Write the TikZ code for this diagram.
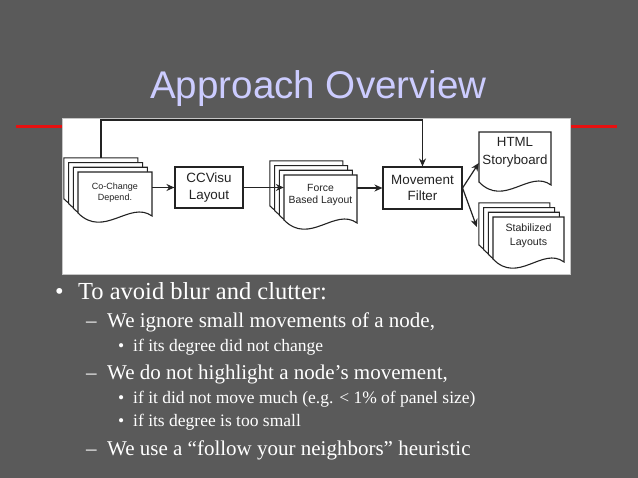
\documentclass[tikz,border=0pt]{standalone}
\usepackage{fontspec}
\setmainfont{Liberation Serif}
\setsansfont{Liberation Sans}
\usetikzlibrary{arrows.meta,positioning}

\definecolor{slidegray}{RGB}{90,90,90}
\definecolor{titleblue}{RGB}{204,204,255}
\definecolor{rulered}{RGB}{232,16,16}
\definecolor{inkgray}{RGB}{35,35,35}

\tikzset{
  docline/.style={draw=inkgray, fill=white, line width=1.1pt},
  box/.style={draw=inkgray, fill=white, line width=1.1pt, inner sep=0pt, align=center, text=inkgray},
  doctext/.style={inner sep=0pt, align=center, text=inkgray},
  flow/.style={draw=inkgray, line width=1.2pt, -{Stealth[length=8pt,width=7pt]}},
  lvlone/.style={anchor=base west, inner sep=0pt, text=white, font=\fontsize{24.5}{28}\selectfont},
  lvltwo/.style={anchor=base west, inner sep=0pt, text=white, font=\fontsize{21}{24}\selectfont},
  lvlthree/.style={anchor=base west, inner sep=0pt, text=white, font=\fontsize{17.5}{20}\selectfont}
}

% one page of a document: x, top, width, height of left side
\newcommand{\docpage}[4]{%
  \filldraw[docline] ({#1},{#2}) -- ({#1+#3},{#2}) -- ({#1+#3},{#2+#4+3})
    .. controls ({#1+0.7*#3},{#2+#4-13}) and ({#1+0.35*#3},{#2+#4+26}) .. ({#1},{#2+#4}) -- cycle;}
% four pages stacked back to front
\newcommand{\docstack}[4]{%
  \foreach \k in {3,2,1,0}{\docpage{#1-4.7*\k}{#2-4.7*\k}{#3}{#4}}}

\begin{document}
\begin{tikzpicture}[x=1pt, y=-1pt]
% slide
\fill[slidegray] (0,0) rectangle (638,478);
\node[font=\sffamily\fontsize{38.6}{46}\selectfont, text=titleblue, anchor=base, inner sep=0pt] (title) at (318.5,99) {Approach Overview};
\draw[rulered, line width=3pt] (16,127) -- (62,127);
\draw[rulered, line width=3pt] (570,127) -- (617,127);
\draw[fill=white, draw=gray!45] (62,118) rectangle (570,274);

% document stacks
\docstack{78}{172}{74}{41}
\docstack{284}{175}{73}{45}
\docpage{479}{132}{72}{50}
\docstack{493}{217}{71}{42}

% pipeline
\node[doctext, minimum width=74pt, font=\sffamily\fontsize{9}{11}\selectfont] (cochange) at (115,192.5) {Co-Change\\Depend.};
\node[box, minimum width=68pt, minimum height=41pt, font=\sffamily\fontsize{13.4}{17}\selectfont] (ccvisu) at (209,187.5) {CCVisu\\Layout};
\node[doctext, minimum width=73pt, font=\sffamily\fontsize{10.4}{12}\selectfont] (force) at (320.5,195) {Force\\Based Layout};
\node[box, minimum width=79pt, minimum height=42pt, font=\sffamily\fontsize{13.4}{16}\selectfont] (filter) at (422.5,188) {Movement\\Filter};
\node[doctext, minimum width=72pt, font=\sffamily\fontsize{13.3}{18}\selectfont] (html) at (515,152) {HTML\\Storyboard};
\node[doctext, minimum width=71pt, font=\sffamily\fontsize{10.6}{14}\selectfont] (stable) at (528.5,236) {Stabilized\\Layouts};

\draw[flow] (cochange.east |- ccvisu.west) -- (ccvisu.west);
\draw[flow] (ccvisu.east) -- (force.west |- ccvisu.east);
\draw[flow] (force.east |- filter.west) -- (filter.west);
\draw[flow] (filter.east) -- ([yshift=-11pt]html.west);
\draw[flow] (filter.east) -- ([shift={(-16pt,9pt)}]stable.west);

% feedback from the input to the filter
\coordinate (loopstart) at (101,158);
\coordinate (looptop) at (101,120);
\draw[flow] (loopstart) -- (looptop) -| (filter.north);

% bullets
\node[lvlone] (b1) at (55,300) {•};
\node[lvlone] (t1) at (78,300) {To avoid blur and clutter:};
\node[lvltwo] (d1) at (86,328) {–};
\node[lvltwo] (t2) at (107,328) {We ignore small movements of a node,};
\node[lvlthree] (s1) at (118,352) {•};
\node[lvlthree] (t3) at (133,352) {if its degree did not change};
\node[lvltwo] (d2) at (86,380) {–};
\node[lvltwo] (t4) at (107,380) {We do not highlight a node’s movement,};
\node[lvlthree] (s2) at (118,404) {•};
\node[lvlthree] (t5) at (133,404) {if it did not move much (e.g. < 1\% of panel size)};
\node[lvlthree] (s3) at (118,427) {•};
\node[lvlthree] (t6) at (133,427) {if its degree is too small};
\node[lvltwo] (d3) at (86,456) {–};
\node[lvltwo] (t7) at (107,456) {We use a “follow your neighbors” heuristic};
\end{tikzpicture}
\end{document}
